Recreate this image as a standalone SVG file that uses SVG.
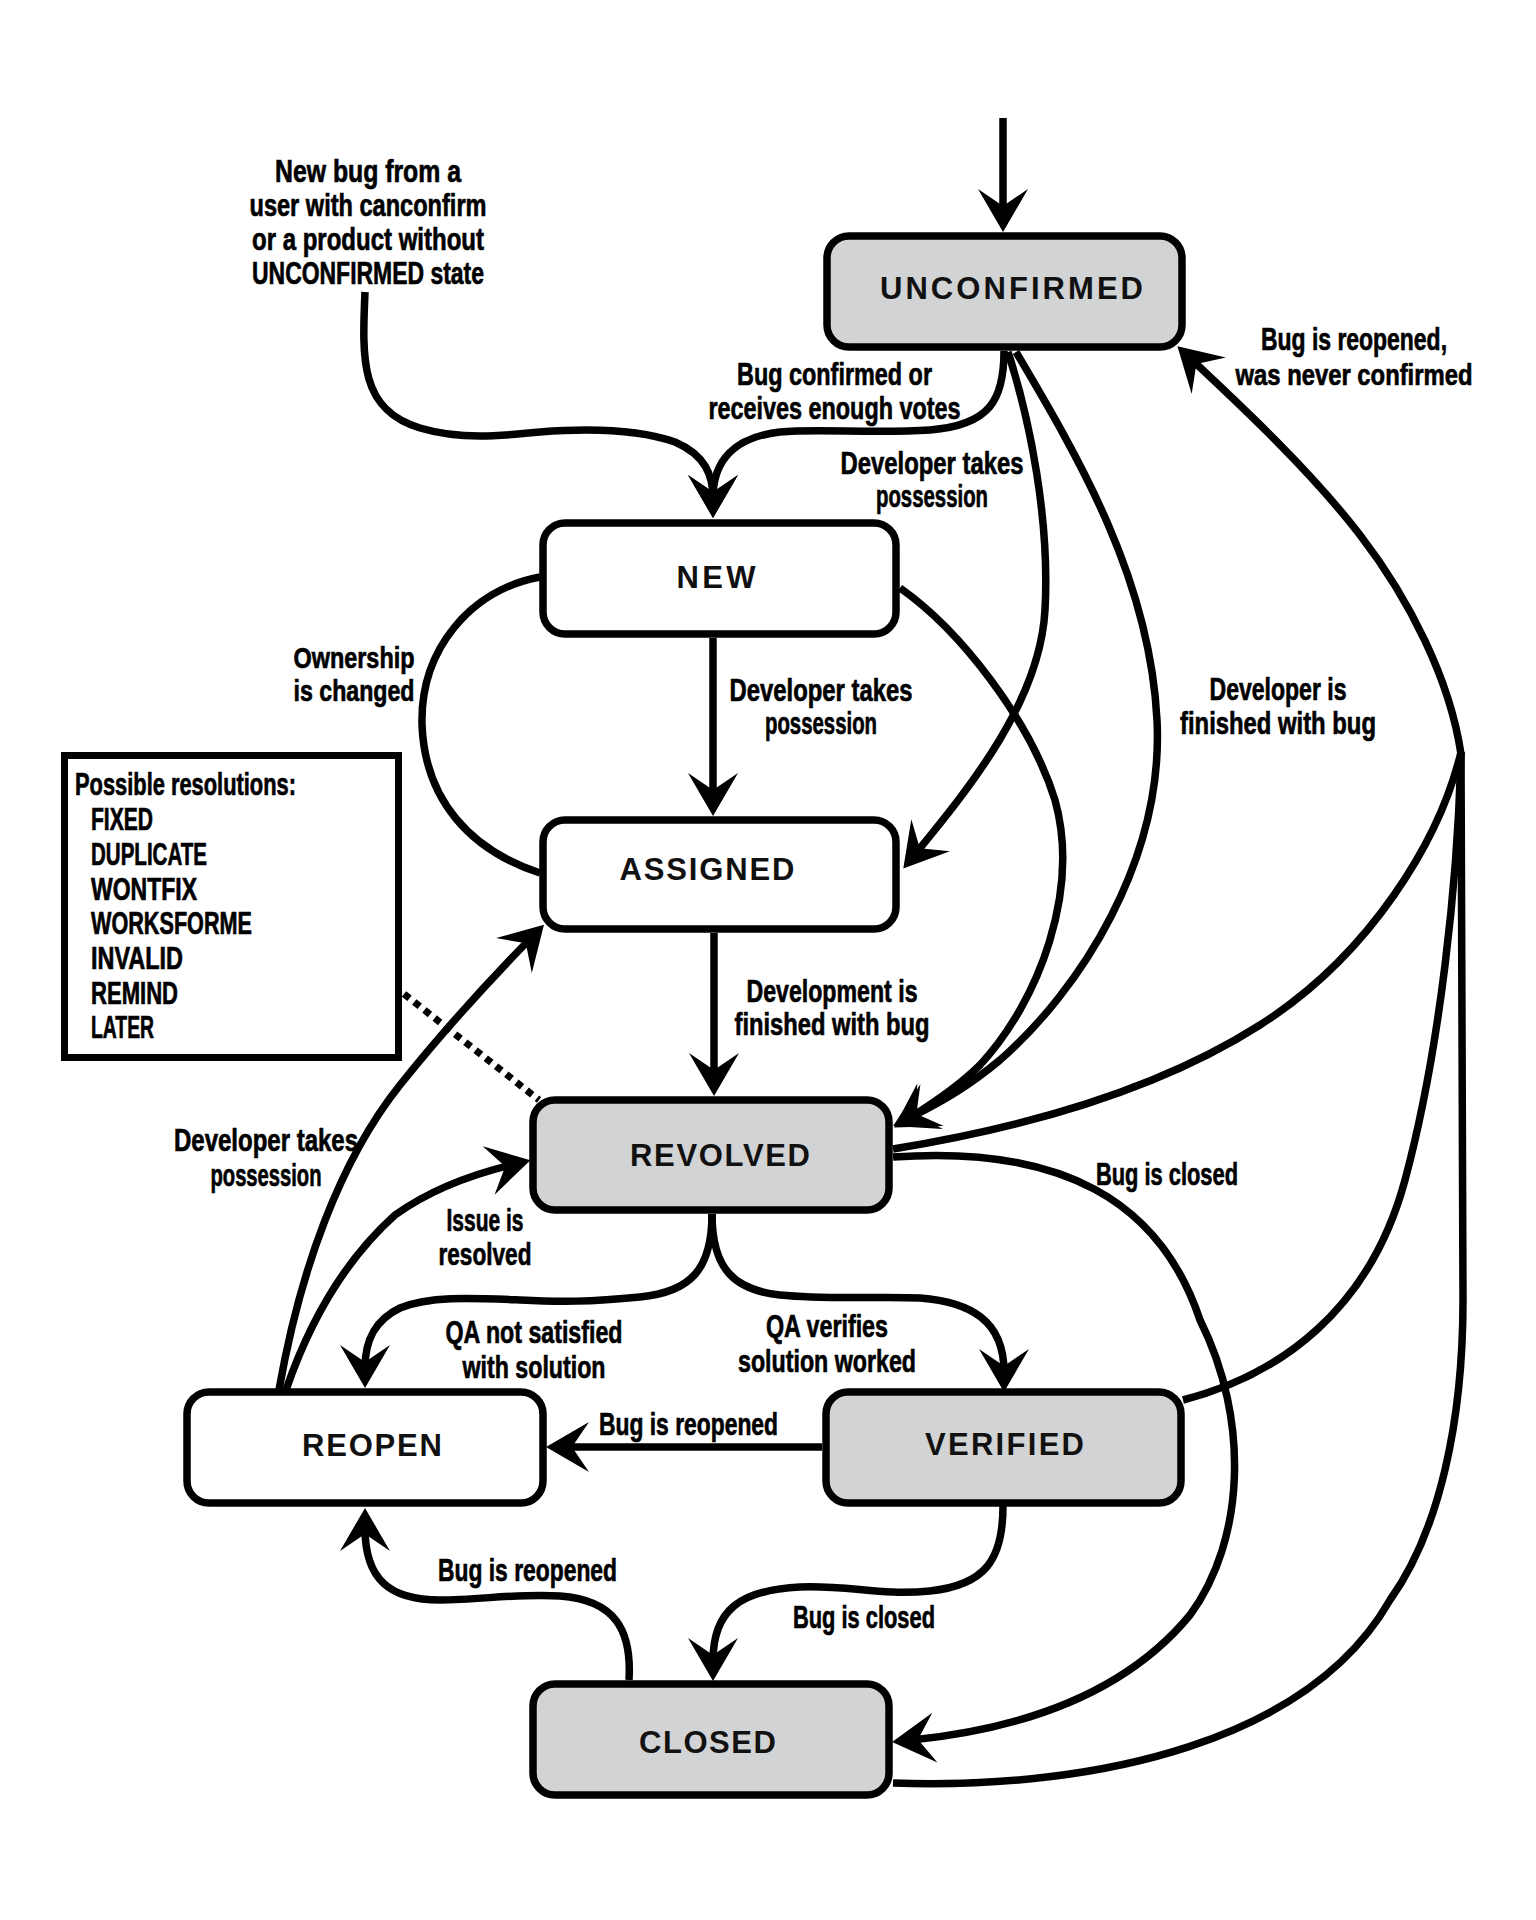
<svg xmlns="http://www.w3.org/2000/svg" width="1536" height="1920" viewBox="0 0 1536 1920">
<style>
.bg{fill:#ffffff}
.box rect{stroke:#000;stroke-width:7.5}
.white rect{fill:#ffffff}
.grey rect{fill:#d2d3d5}
.ntext{font-family:"Liberation Sans",Arial,sans-serif;font-weight:700;font-size:31px;text-anchor:middle;fill:#111}
.lbl{font-family:"Liberation Sans",Arial,sans-serif;font-weight:700;font-size:32px;text-anchor:middle;fill:#000;stroke:#000;stroke-width:0.7}
.lbl-l{font-family:"Liberation Sans",Arial,sans-serif;font-weight:700;font-size:32px;text-anchor:start;fill:#000;stroke:#000;stroke-width:0.7}
.sm{font-size:30px}
.edge{fill:none;stroke:#000;stroke-width:7.5;stroke-linecap:butt;stroke-linejoin:round}
.arr{marker-end:url(#ah)}
.dot{fill:none;stroke:#000;stroke-width:7;stroke-dasharray:7 6}
</style>
<defs>
<marker id="ah" viewBox="-26 -27 48 54" refX="0" refY="0" markerWidth="48" markerHeight="54" markerUnits="userSpaceOnUse" orient="auto">
<path d="M20,0 L-23,-25 L-6,0 L-23,25 Z" fill="#000"/>
</marker>
</defs>
<rect class="bg" x="0" y="0" width="1536" height="1920"/>

<g id="connectors">
<path id="e-entry" class="edge arr" d="M1003,118 V212"/>
<path id="e-newbug" class="edge arr" d="M365,292 C362,360 360,410 420,428 C460,440 500,436 540,432 C590,428 640,430 675,442 C705,455 713,475 713,498"/>
<path id="e-unc-new" class="edge arr" d="M1004,351 C1004,400 990,425 930,430 C870,434 820,428 780,432 C735,437 713,460 713,498"/>
<path id="e-unc-asg" class="edge arr" d="M1008,352 C1030,420 1050,520 1045,610 C1040,700 972,785 916,853"/>
<path id="e-unc-rev" class="edge arr" d="M1016,352 C1080,460 1150,580 1157,720 C1164,860 1080,990 1000,1060 C970,1085 945,1100 911,1117"/>
<path id="e-new-rev" class="edge arr" d="M900,588 C960,630 1030,720 1055,800 C1080,890 1040,1000 980,1065 C960,1085 935,1102 911,1117"/>
<path id="e-new-asg" class="edge arr" d="M713,638 V796"/>
<path id="e-asg-rev" class="edge arr" d="M714,933 V1076"/>
<path id="e-own" class="edge" d="M540,873 C470,850 425,800 422,725 C420,650 470,590 540,577"/>
<path id="e-rev-junc" class="edge" d="M893,1149 C1010,1130 1150,1095 1260,1025 C1370,955 1440,840 1461,752"/>
<path id="e-ver-junc" class="edge" d="M1183,1400 C1280,1375 1370,1310 1405,1180 C1440,1050 1458,880 1461,752"/>
<path id="e-clo-junc" class="edge" d="M893,1783 C1100,1790 1310,1740 1390,1600 C1440,1530 1463,1420 1463,1300 L1461,752"/>
<path id="e-junc-unc" class="edge arr" d="M1461,754 C1450,680 1410,600 1360,535 C1310,470 1240,405 1192,360"/>
<path id="e-rev-clo" class="edge arr" d="M893,1157 C1060,1145 1160,1200 1200,1320 C1250,1420 1245,1540 1190,1615 C1120,1700 1010,1730 912,1740"/>
<path id="e-rev-reo" class="edge arr" d="M712,1214 C712,1270 690,1292 640,1297 C590,1302 560,1302 520,1300 C470,1298 430,1296 400,1308 C375,1320 365,1340 365,1368"/>
<path id="e-rev-ver" class="edge arr" d="M712,1214 C712,1270 735,1290 780,1295 C830,1300 880,1296 920,1298 C970,1302 1004,1320 1004,1372"/>
<path id="e-ver-reo" class="edge arr" d="M822,1447 H566"/>
<path id="e-ver-clo" class="edge arr" d="M1003,1506 C1003,1560 985,1585 930,1591 C880,1596 850,1585 800,1587 C740,1590 713,1610 713,1661"/>
<path id="e-clo-reo" class="edge arr" d="M629,1680 C632,1630 615,1600 560,1596 C520,1593 480,1600 440,1600 C390,1600 365,1580 365,1528"/>
<path id="e-reo-asg" class="edge arr" d="M279,1390 C300,1270 340,1160 400,1085 C440,1035 490,980 530,939"/>
<path id="e-reo-rev" class="edge arr" d="M286,1390 C310,1320 345,1260 395,1215 C430,1190 470,1175 511,1165"/>
<path id="e-note" class="dot" d="M404,994 L539,1100"/>
</g>

<g id="n-unconfirmed" class="box grey"><rect x="827" y="236" width="355" height="111" rx="22"/><text class="ntext" x="1011.5" y="299" textLength="263">UNCONFIRMED</text></g>
<g id="n-new" class="box white"><rect x="543" y="523" width="353" height="111" rx="22"/><text class="ntext" x="716" y="588" textLength="79">NEW</text></g>
<g id="n-assigned" class="box white"><rect x="543" y="820" width="353" height="109" rx="22"/><text class="ntext" x="707" y="880" textLength="175">ASSIGNED</text></g>
<g id="n-revolved" class="box grey"><rect x="533" y="1100" width="356" height="110" rx="22"/><text class="ntext" x="720" y="1166" textLength="180">REVOLVED</text></g>
<g id="n-reopen" class="box white"><rect x="187" y="1392" width="356" height="111" rx="22"/><text class="ntext" x="372" y="1456" textLength="140">REOPEN</text></g>
<g id="n-verified" class="box grey"><rect x="826" y="1392" width="355" height="111" rx="22"/><text class="ntext" x="1004.5" y="1455" textLength="159">VERIFIED</text></g>
<g id="n-closed" class="box grey"><rect x="533" y="1684" width="356" height="111" rx="22"/><text class="ntext" x="707.5" y="1753" textLength="137">CLOSED</text></g>

<g id="n-resolutions">
<rect x="64.5" y="755.5" width="334" height="302" fill="#fff" stroke="#000" stroke-width="7"/>
<text class="lbl-l" x="75" y="795" textLength="221" lengthAdjust="spacingAndGlyphs">Possible resolutions:</text>
<text class="lbl-l" x="91" y="830" textLength="62" lengthAdjust="spacingAndGlyphs">FIXED</text>
<text class="lbl-l" x="91" y="865" textLength="116" lengthAdjust="spacingAndGlyphs">DUPLICATE</text>
<text class="lbl-l" x="91" y="900" textLength="106" lengthAdjust="spacingAndGlyphs">WONTFIX</text>
<text class="lbl-l" x="91" y="934" textLength="161" lengthAdjust="spacingAndGlyphs">WORKSFORME</text>
<text class="lbl-l" x="91" y="969" textLength="92" lengthAdjust="spacingAndGlyphs">INVALID</text>
<text class="lbl-l" x="91" y="1004" textLength="87" lengthAdjust="spacingAndGlyphs">REMIND</text>
<text class="lbl-l" x="91" y="1038" textLength="63" lengthAdjust="spacingAndGlyphs">LATER</text>
</g>

<g id="labels">
<text class="lbl" x="368" y="182" textLength="186" lengthAdjust="spacingAndGlyphs">New bug from a</text>
<text class="lbl" x="368" y="216" textLength="237" lengthAdjust="spacingAndGlyphs">user with canconfirm</text>
<text class="lbl" x="368" y="250" textLength="232" lengthAdjust="spacingAndGlyphs">or a product without</text>
<text class="lbl" x="368" y="284" textLength="232" lengthAdjust="spacingAndGlyphs">UNCONFIRMED state</text>
<text class="lbl" x="834.5" y="385" textLength="195" lengthAdjust="spacingAndGlyphs">Bug confirmed or</text>
<text class="lbl" x="834.5" y="419" textLength="252" lengthAdjust="spacingAndGlyphs">receives enough votes</text>
<text class="lbl" x="932" y="474" textLength="183" lengthAdjust="spacingAndGlyphs">Developer takes</text>
<text class="lbl" x="932" y="507" textLength="112" lengthAdjust="spacingAndGlyphs">possession</text>
<text class="lbl sm" x="354" y="668" textLength="121" lengthAdjust="spacingAndGlyphs">Ownership</text>
<text class="lbl sm" x="354" y="701" textLength="121" lengthAdjust="spacingAndGlyphs">is changed</text>
<text class="lbl" x="821" y="701" textLength="183" lengthAdjust="spacingAndGlyphs">Developer takes</text>
<text class="lbl" x="821" y="734" textLength="112" lengthAdjust="spacingAndGlyphs">possession</text>
<text class="lbl" x="1278" y="700" textLength="137" lengthAdjust="spacingAndGlyphs">Developer is</text>
<text class="lbl" x="1278" y="734" textLength="196" lengthAdjust="spacingAndGlyphs">finished with bug</text>
<text class="lbl" x="832" y="1002" textLength="171" lengthAdjust="spacingAndGlyphs">Development is</text>
<text class="lbl" x="832" y="1035" textLength="195" lengthAdjust="spacingAndGlyphs">finished with bug</text>
<text class="lbl" x="1167" y="1185" textLength="142" lengthAdjust="spacingAndGlyphs">Bug is closed</text>
<text class="lbl" x="266" y="1151" textLength="184" lengthAdjust="spacingAndGlyphs">Developer takes</text>
<text class="lbl" x="266" y="1186" textLength="111" lengthAdjust="spacingAndGlyphs">possession</text>
<text class="lbl" x="485" y="1231" textLength="77" lengthAdjust="spacingAndGlyphs">Issue is</text>
<text class="lbl" x="485" y="1265" textLength="93" lengthAdjust="spacingAndGlyphs">resolved</text>
<text class="lbl" x="534" y="1343" textLength="177" lengthAdjust="spacingAndGlyphs">QA not satisfied</text>
<text class="lbl" x="534" y="1378" textLength="143" lengthAdjust="spacingAndGlyphs">with solution</text>
<text class="lbl" x="827" y="1337" textLength="122" lengthAdjust="spacingAndGlyphs">QA verifies</text>
<text class="lbl" x="827" y="1372" textLength="178" lengthAdjust="spacingAndGlyphs">solution worked</text>
<text class="lbl" x="688.5" y="1435" textLength="179" lengthAdjust="spacingAndGlyphs">Bug is reopened</text>
<text class="lbl" x="527.5" y="1581" textLength="179" lengthAdjust="spacingAndGlyphs">Bug is reopened</text>
<text class="lbl" x="864" y="1628" textLength="142" lengthAdjust="spacingAndGlyphs">Bug is closed</text>
<text class="lbl" x="1354" y="350" textLength="186" lengthAdjust="spacingAndGlyphs">Bug is reopened,</text>
<text class="lbl sm" x="1354" y="385" textLength="237" lengthAdjust="spacingAndGlyphs">was never confirmed</text>
</g>
</svg>
